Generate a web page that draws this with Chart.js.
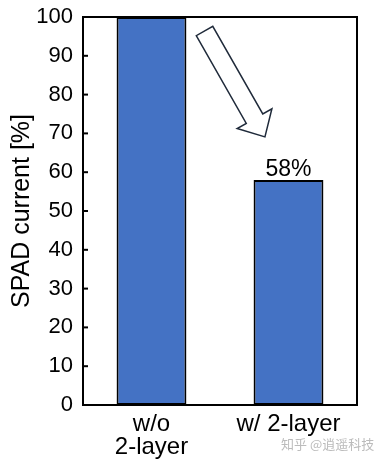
<!DOCTYPE html>
<html>
<head>
<meta charset="utf-8">
<script src="https://cdn.jsdelivr.net/npm/chart.js@4"></script>
<style>
  html, body { margin: 0; padding: 0; background: #fff; }
  #wrap { width: 388px; height: 462px; }
</style>
</head>
<body>
<div id="wrap"><canvas id="chart" width="388" height="462"></canvas></div>
<script>
// Chart data
const categories = [['w/o', '2-layer'], 'w/ 2-layer'];
const currentValues = [100, 58];
const barLabels = ['', '58%'];
const yTicks = [0, 10, 20, 30, 40, 50, 60, 70, 80, 90, 100];

// arrow annotation, in axis units (category index, percent)
const arrowFrom = { x: 0.387, y: 96.4 };
const arrowTo = { x: 0.828, y: 69.1 };

const FONT = 'Liberation Sans, Arial, sans-serif';

const framePlugin = {
    id: 'frame',
    afterDatasetsDraw(chart) {
        const ctx = chart.ctx;
        const a = chart.chartArea;
        const xs = chart.scales.x, ys = chart.scales.y;
        ctx.save();
        // box round the plot
        ctx.strokeStyle = '#000';
        ctx.lineWidth = 2;
        ctx.strokeRect(a.left, a.top, a.right - a.left, a.bottom - a.top);
        // inward tick marks on the y axis
        yTicks.forEach(v => {
            const y = ys.getPixelForValue(v);
            ctx.beginPath();
            ctx.moveTo(a.left, y);
            ctx.lineTo(a.left + 5, y);
            ctx.stroke();
        });
        // value label above bars
        ctx.fillStyle = '#000';
        ctx.font = '23px ' + FONT;
        ctx.textAlign = 'center';
        ctx.textBaseline = 'bottom';
        chart.getDatasetMeta(0).data.forEach((bar, i) => {
            if (barLabels[i]) ctx.fillText(barLabels[i], bar.x, bar.y + 1);
        });
        // hollow arrow
        const x0 = xs.getPixelForValue(arrowFrom.x), y0 = ys.getPixelForValue(arrowFrom.y);
        const x1 = xs.getPixelForValue(arrowTo.x), y1 = ys.getPixelForValue(arrowTo.y);
        const len = Math.hypot(x1 - x0, y1 - y0);
        const ux = (x1 - x0) / len, uy = (y1 - y0) / len;
        const px = -uy, py = ux;
        const shaft = 9.5, head = 20, headLen = 21;
        const bx = x1 - ux * headLen, by = y1 - uy * headLen;
        ctx.beginPath();
        ctx.moveTo(x0 + px * shaft, y0 + py * shaft);
        ctx.lineTo(bx + px * shaft, by + py * shaft);
        ctx.lineTo(bx + px * head, by + py * head);
        ctx.lineTo(x1, y1);
        ctx.lineTo(bx - px * head, by - py * head);
        ctx.lineTo(bx - px * shaft, by - py * shaft);
        ctx.lineTo(x0 - px * shaft, y0 - py * shaft);
        ctx.closePath();
        ctx.fillStyle = '#fff';
        ctx.fill();
        ctx.strokeStyle = '#1f2a3a';
        ctx.lineWidth = 1.5;
        ctx.stroke();
        // watermark
        ctx.font = '13px "Noto Sans CJK SC", sans-serif';
        ctx.fillStyle = 'rgba(170,170,170,0.8)';
        ctx.textAlign = 'left';
        ctx.textBaseline = 'middle';
        ctx.fillText('知乎 @逍遥科技', 281, 444);
        ctx.restore();
    }
};

new Chart(document.getElementById('chart'), {
    type: 'bar',
    data: {
        labels: categories,
        datasets: [{
            data: currentValues,
            backgroundColor: '#4472c4',
            borderColor: '#000',
            borderWidth: 2,
            borderSkipped: false,
            categoryPercentage: 1,
            barPercentage: 0.51
        }]
    },
    options: {
        responsive: false,
        animation: false,
        layout: { padding: { top: 17, right: 31, bottom: 0, left: 0 } },
        plugins: { legend: { display: false }, tooltip: { enabled: false } },
        scales: {
            x: {
                grid: { display: false, drawTicks: false },
                border: { display: false },
                ticks: {
                    color: '#000',
                    padding: 8,
                    maxRotation: 0,
                    font: { family: FONT, size: 24, lineHeight: 0.96 }
                },
                afterFit(scale) { scale.height = 57; }
            },
            y: {
                min: 0,
                max: 100,
                grid: { display: false, drawTicks: false },
                border: { display: false },
                ticks: {
                    stepSize: 10,
                    color: '#000',
                    padding: 10,
                    font: { family: FONT, size: 22 }
                },
                title: {
                    display: true,
                    text: 'SPAD current [%]',
                    color: '#000',
                    padding: { top: 7, bottom: 0 },
                    font: { family: FONT, size: 25 }
                },
                afterFit(scale) {
                    scale.width = 83;
                    scale.paddingTop = 0;
                    scale.paddingBottom = 0;
                }
            }
        }
    },
    plugins: [framePlugin]
});
</script>
</body>
</html>
